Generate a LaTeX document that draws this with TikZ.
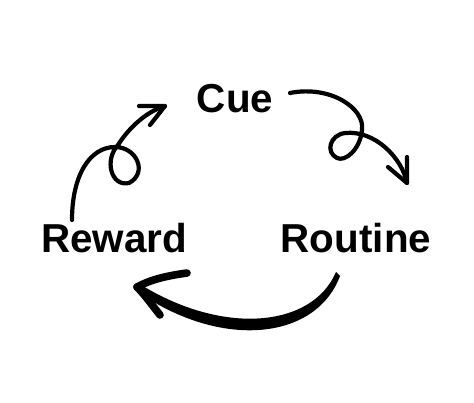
\documentclass[tikz,border=0pt]{standalone}
\usepackage{fontspec}
\setmainfont{Liberation Sans}

\begin{document}
\begin{tikzpicture}[x=0.5pt, y=-0.5pt,
  word/.style={font=\fontsize{20.2}{24}\selectfont\bfseries, inner sep=0pt, anchor=base},
  curl/.style={line width=2.1pt, line cap=round, line join=round},
  barb/.style={line width=3.8pt, line cap=round}]
  \useasboundingbox (0,0) rectangle (474,402);

  % --- words of the loop ---
  \node[word] (cue)     at (235,112) {Cue};
  \node[word] (routine) at (356,252) {Routine};
  \node[word] (reward)  at (114,252) {Reward};

  % --- end points of the arrows ---
  \coordinate (reward-out)  at (72,220);
  \coordinate (cue-in)      at (165,106);
  \coordinate (cue-out)     at (290,93);
  \coordinate (routine-in)  at (407,183);
  \coordinate (routine-out) at (336,272);
  \coordinate (reward-in)   at (137,287);

  % Reward -> Cue, with a curl
  \draw[curl] (reward-out) .. controls (72,175) and (90,147) .. (115,147)
    .. controls (137,147) and (148,173) .. (129,183)
    .. controls (111,187) and (104,160) .. (118,145)
    .. controls (130,126) and (148,111) .. (cue-in);
  \draw[curl] (139,106) -- (cue-in) -- (150,125);

  % Cue -> Routine, with a curl
  \draw[curl] (cue-out) .. controls (330,85) and (365,108) .. (362,130)
    .. controls (360,150) and (345,162) .. (337,158)
    .. controls (325,152) and (330,135) .. (345,133)
    .. controls (375,130) and (402,158) .. (routine-in);
  \draw[curl] (407,157) -- (routine-in) -- (388,167);

  % Routine -> Reward, brush stroke
  \fill (routine-out) .. controls (312,328) and (222,336) .. (138,283)
    -- (138,292) .. controls (222,350) and (316,340) .. (340,276) -- cycle;
  \draw[barb] (187,273) .. controls (165,276) and (150,280) .. (reward-in);
  \draw[barb] (160,315) .. controls (152,305) and (145,295) .. (reward-in);
\end{tikzpicture}
\end{document}
